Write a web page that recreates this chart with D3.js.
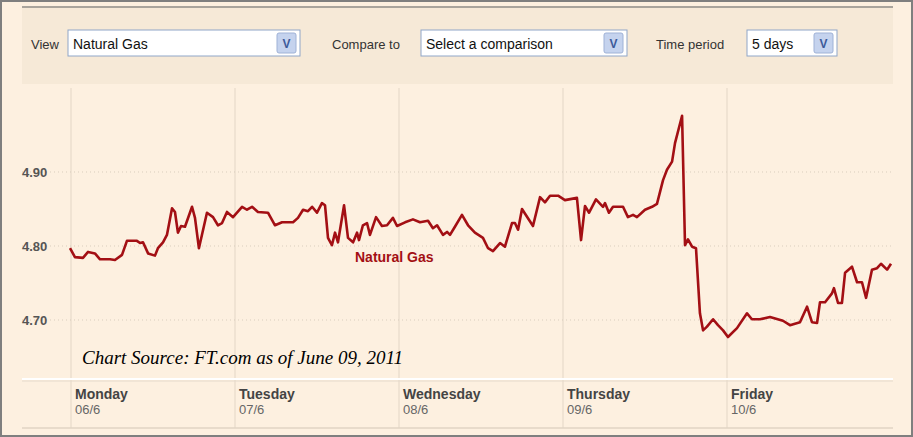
<!DOCTYPE html>
<html><head><meta charset="utf-8">
<script src="https://cdn.jsdelivr.net/npm/d3@7"></script>
<style>body{margin:0;background:#fff;}svg{display:block;}</style>
</head><body>
<script>
const days = ["Monday","Tuesday","Wednesday","Thursday","Friday"];
const dates = ["06/6","07/6","08/6","09/6","10/6"];
const yTicks = [4.70,4.80,4.90];
const t = [-0.006,.024,.073,.104,.146,.177,.238,.268,.311,.341,.402,.421,.439,.47,.512,.53,.561,.585,.616,.634,.652,.671,.695,.738,.756,.78,.829,.866,.896,.921,.951,.988,1.043,1.073,1.104,1.14,1.201,1.244,1.287,1.354,1.384,1.415,1.445,1.47,1.5,1.53,1.549,1.567,1.591,1.61,1.628,1.665,1.689,1.72,1.744,1.756,1.78,1.805,1.823,1.86,1.896,1.927,1.963,1.988,2.037,2.085,2.128,2.177,2.207,2.232,2.268,2.293,2.311,2.341,2.384,2.421,2.463,2.512,2.543,2.573,2.616,2.646,2.689,2.707,2.726,2.75,2.817,2.86,2.89,2.921,2.97,3.012,3.085,3.11,3.134,3.159,3.201,3.244,3.256,3.28,3.305,3.366,3.396,3.427,3.451,3.5,3.543,3.573,3.61,3.634,3.665,3.683,3.726,3.744,3.762,3.787,3.811,3.835,3.854,3.878,3.915,3.945,3.976,4.006,4.061,4.122,4.152,4.201,4.262,4.341,4.384,4.445,4.488,4.518,4.549,4.567,4.598,4.64,4.652,4.677,4.701,4.72,4.762,4.793,4.823,4.848,4.884,4.915,4.939,4.976,5.0];
const price = [4.797,4.785,4.784,4.792,4.79,4.782,4.782,4.781,4.788,4.807,4.807,4.804,4.805,4.79,4.787,4.797,4.805,4.815,4.851,4.846,4.818,4.827,4.826,4.853,4.838,4.797,4.845,4.839,4.828,4.831,4.846,4.839,4.853,4.849,4.853,4.846,4.845,4.828,4.832,4.832,4.838,4.849,4.847,4.853,4.845,4.858,4.855,4.811,4.801,4.818,4.805,4.855,4.811,4.805,4.818,4.808,4.828,4.831,4.815,4.839,4.827,4.828,4.838,4.827,4.832,4.836,4.832,4.834,4.824,4.828,4.815,4.819,4.815,4.826,4.842,4.828,4.818,4.811,4.797,4.793,4.804,4.799,4.831,4.831,4.822,4.85,4.827,4.866,4.859,4.868,4.868,4.862,4.865,4.808,4.854,4.845,4.863,4.853,4.858,4.845,4.853,4.853,4.839,4.842,4.839,4.849,4.853,4.857,4.889,4.903,4.914,4.939,4.976,4.801,4.809,4.799,4.797,4.709,4.686,4.691,4.701,4.693,4.686,4.677,4.689,4.709,4.701,4.701,4.704,4.699,4.693,4.697,4.718,4.697,4.696,4.724,4.724,4.736,4.743,4.723,4.723,4.764,4.772,4.751,4.751,4.73,4.768,4.77,4.776,4.768,4.776];

const W=913,H=437;
const svg=d3.select("body").append("svg").attr("width",W).attr("height",H);
svg.append("rect").attr("width",W).attr("height",H).attr("fill","#fdf0e0");
svg.append("rect").attr("x",1).attr("y",1).attr("width",W-2).attr("height",H-2).attr("fill","none").attr("stroke","#7f7f7f").attr("stroke-width",2);
// top panel
svg.append("rect").attr("x",22).attr("y",7).attr("width",871).attr("height",77).attr("fill","#f6e9d7");
svg.append("line").attr("x1",22).attr("x2",893).attr("y1",7).attr("y2",7).attr("stroke","#a9a49c").attr("stroke-width",2);
const F="Liberation Sans, Arial, sans-serif";
function dd(lbl,lx,bx,bw,txt){
  svg.append("text").attr("x",lx).attr("y",49).attr("font-family",F).attr("font-size",13).attr("fill","#333").text(lbl);
  svg.append("rect").attr("x",bx).attr("y",30).attr("width",bw).attr("height",26).attr("fill","#fff").attr("stroke","#8fa6c8");
  svg.append("text").attr("x",bx+5).attr("y",49).attr("font-family",F).attr("font-size",14).attr("fill","#111").text(txt);
  svg.append("rect").attr("x",bx+bw-23).attr("y",33).attr("width",19).attr("height",20).attr("rx",2).attr("fill","#c5d3ee").attr("stroke","#9fb2d6");
  svg.append("text").attr("x",bx+bw-13.5).attr("y",48).attr("text-anchor","middle").attr("font-family",F).attr("font-weight","bold").attr("font-size",12).attr("fill","#3c5a9a").text("V");
}
dd("View",31,68,232,"Natural Gas");
dd("Compare to",332,421,206,"Select a comparison");
dd("Time period",656,747,90,"5 days");

const x=d3.scaleLinear().domain([0,4]).range([71,727]);
const y=d3.scaleLinear().domain([4.70,4.90]).range([320,172]);
// vertical grid
svg.selectAll(".vg").data(days).enter().append("line").attr("x1",(d,i)=>x(i)).attr("x2",(d,i)=>x(i)).attr("y1",88).attr("y2",428).attr("stroke","#ebdfcf").attr("stroke-width",1.5);
svg.selectAll(".hg").data(yTicks).enter().append("line").attr("x1",22).attr("x2",893).attr("y1",d=>y(d)).attr("y2",d=>y(d)).attr("stroke","#d9cdbd").attr("stroke-dasharray","1,3");
svg.selectAll(".yl").data(yTicks).enter().append("text").attr("x",22).attr("y",d=>y(d)+5).attr("font-family",F).attr("font-weight","bold").attr("font-size",13).attr("fill","#555").text(d=>d.toFixed(2));
// axis separators
svg.append("line").attr("x1",22).attr("x2",893).attr("y1",379).attr("y2",379).attr("stroke","#ffffff").attr("stroke-width",2);
svg.append("line").attr("x1",22).attr("x2",893).attr("y1",381).attr("y2",381).attr("stroke","#e6dacb");
svg.append("line").attr("x1",22).attr("x2",893).attr("y1",428).attr("y2",428).attr("stroke","#e0d4c4").attr("stroke-width",1.5);
svg.selectAll(".dl").data(days).enter().append("text").attr("x",(d,i)=>x(i)+4).attr("y",399).attr("font-family",F).attr("font-weight","bold").attr("font-size",14).attr("fill","#444").text(d=>d);
svg.selectAll(".dt").data(dates).enter().append("text").attr("x",(d,i)=>x(i)+4).attr("y",414).attr("font-family",F).attr("font-size",13).attr("fill","#666").text(d=>d);
// line
const pts=t.map((v,i)=>[v,price[i]]);
svg.append("path").datum(pts).attr("fill","none").attr("stroke","#a30f14").attr("stroke-width",2.6).attr("stroke-linejoin","round")
 .attr("d",d3.line().x(d=>x(d[0])).y(d=>y(d[1])));
svg.append("text").attr("x",355).attr("y",262).attr("font-family",F).attr("font-weight","bold").attr("font-size",14).attr("fill","#a30f14").text("Natural Gas");
svg.append("text").attr("x",82).attr("y",364).attr("font-family","Liberation Serif, Times New Roman, serif").attr("font-style","italic").attr("font-size",19).attr("fill","#000").text("Chart Source: FT.com as of June 09, 2011");
</script>
</body></html>
